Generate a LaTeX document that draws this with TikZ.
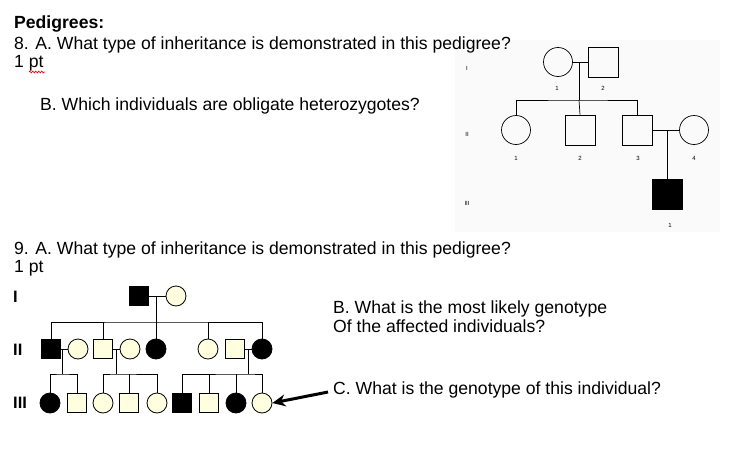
\documentclass[tikz,border=0pt]{standalone}
\usepackage{fontspec}
\setmainfont{Liberation Sans}
\usetikzlibrary{decorations.pathmorphing,arrows.meta}
\definecolor{cream}{HTML}{FFFFE0}
\begin{document}
\begin{tikzpicture}[x=1pt,y=-1pt,
 txt/.style={anchor=west,inner sep=0pt,font=\fontsize{17.6}{19}\selectfont},
 lab/.style={inner sep=0pt,font=\fontsize{6}{7}\selectfont},
 sqA/.style={draw,minimum size=30pt,inner sep=0pt,line width=0.7pt},
 ciA/.style={draw,circle,minimum size=29pt,inner sep=0pt,line width=0.7pt},
 sqB/.style={draw,minimum size=19pt,inner sep=0pt,line width=0.8pt,fill=cream},
 ciB/.style={draw,circle,minimum size=20pt,inner sep=0pt,line width=0.8pt,fill=cream},
 aff/.style={fill=black},
 ln/.style={line width=0.7pt}]
\useasboundingbox (0,0) rectangle (754,452);
\fill[white] (0,0) rectangle (754,452);
\fill[black!2] (455,40) rectangle (720,232);
\node[txt,font=\fontsize{17.6}{19}\selectfont\bfseries] (t0) at (14,24) {Pedigrees:};
\node[txt] (t1) at (14,45) {8. A. What type of inheritance is demonstrated in this pedigree?};
\node[txt] (t2) at (14,63) {1 pt};
\draw[red,line width=0.6pt,decorate,decoration={zigzag,segment length=3pt,amplitude=1pt}] (29,72) -- (45,72);
\node[txt] (t3) at (40,106) {B. Which individuals are obligate heterozygotes?};
\node[txt] (t4) at (14,250) {9. A. What type of inheritance is demonstrated in this pedigree?};
\node[txt] (t5) at (14,268) {1 pt};
\node[txt,font=\fontsize{16.5}{18}\selectfont\bfseries] (g1) at (13,297) {I};
\node[txt,font=\fontsize{16.5}{18}\selectfont\bfseries] (g2) at (13,350) {II};
\node[txt,font=\fontsize{16.5}{18}\selectfont\bfseries] (g3) at (13,403) {III};
\node[txt,align=left] (tb) at (333,317) {B. What is the most likely genotype\\Of the affected individuals?};
\node[txt] (tc) at (333,390) {C. What is the genotype of this individual?};
\node[lab] at (467,68) {I}; \node[lab] at (467,134) {II}; \node[lab] at (467,203) {III};
\node[ciA] (a1) at (558,62) {}; \node[sqA] (a2) at (603,62) {};
\node[lab] at (557,88) {1}; \node[lab] at (603,88) {2};
\node[ciA] (b1) at (516,130) {}; \node[sqA] (b2) at (580,130) {};
\node[sqA] (b3) at (637,130) {}; \node[ciA] (b4) at (694,130) {};
\node[lab] at (516,158) {1}; \node[lab] at (580,158) {2}; \node[lab] at (638,158) {3}; \node[lab] at (694,158) {4};
\node[sqA,aff] (c1) at (667,194) {}; \node[lab] at (670,225) {1};
\draw[ln] (a1) -- (a2);
\draw[ln] (579,62) -- (579,100);
\draw[ln] (b1.north) |- (579,100) -| (b3.north);
\draw[ln] (579,100) -- (b2.north);
\draw[ln] (b3) -- (b4);
\draw[ln] (667,130) -- (c1.north);
\node[sqB,aff] (p1) at (139,296) {}; \node[ciB] (p2) at (176,296) {};
\node[sqB,aff] (q1) at (51,349) {}; \node[ciB] (q2) at (78,349) {};
\node[sqB] (q3) at (103,349) {}; \node[ciB] (q4) at (130,349) {};
\node[ciB,aff] (q5) at (156,349) {}; \node[ciB] (q6) at (208,349) {};
\node[sqB] (q7) at (235,349) {}; \node[ciB,aff] (q8) at (262,349) {};
\node[ciB,aff] (r1) at (50,403) {}; \node[sqB] (r2) at (77,403) {};
\node[ciB] (r3) at (103,403) {}; \node[sqB] (r4) at (129,403) {};
\node[ciB] (r5) at (157,403) {}; \node[sqB,aff] (r6) at (182,403) {};
\node[sqB] (r7) at (209,403) {}; \node[ciB,aff] (r8) at (236,403) {};
\node[ciB] (r9) at (262,403) {};
\draw[ln] (p1) -- (p2);
\draw[ln] (156,296) -- (156,322);
\draw[ln] (q1.north) |- (156,322) -| (q8.north);
\draw[ln] (q3.north) -- (103,322); \draw[ln] (q5.north) -- (156,322); \draw[ln] (q6.north) -- (208,322);
\draw[ln] (q1) -- (q2); \draw[ln] (q3) -- (q4); \draw[ln] (q7) -- (q8);
\draw[ln] (62,349) -- (62,374); \draw[ln] (r1.north) |- (62,374) -| (r2.north);
\draw[ln] (116,349) -- (116,374); \draw[ln] (r3.north) |- (116,374) -| (r5.north); \draw[ln] (r4.north) -- (129,374);
\draw[ln] (248,349) -- (248,374); \draw[ln] (r6.north) |- (248,374) -| (r9.north);
\draw[ln] (r7.north) -- (209,374); \draw[ln] (r8.north) -- (236,374);
\coordinate (ac) at (328,392);
\draw[line width=3pt,-{Stealth[length=13pt,width=12pt]}] (ac) -- (r9.east);
\end{tikzpicture}
\end{document}
